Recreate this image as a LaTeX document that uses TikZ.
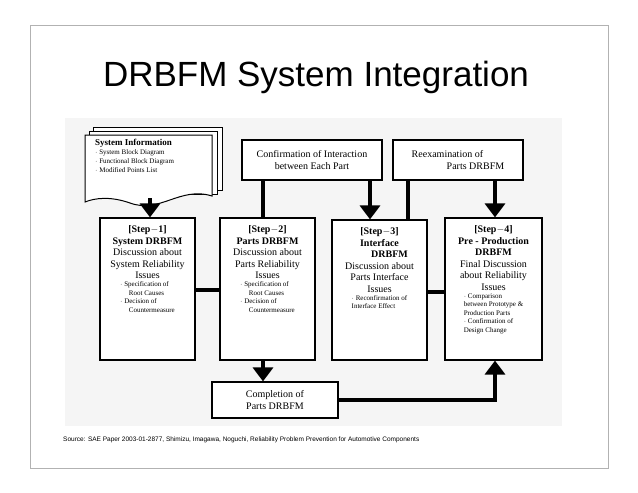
\documentclass[tikz,border=0pt]{standalone}
\usepackage{fontspec}
\setmainfont{Liberation Serif}
\newfontfamily\sans{Liberation Sans}
\usetikzlibrary{arrows.meta}

\tikzset{
	stepbox/.style={draw, line width=1.2pt, fill=white, inner sep=0pt},
	steptext/.style={align=center, font=\fontsize{10}{11.5}\selectfont, inner sep=2pt},
	bullets/.style={align=left, font=\fontsize{7}{8.5}\selectfont, inner sep=1pt},
	link/.style={line width=3.5pt},
	flow/.style={line width=3.5pt, -{Triangle[width=20pt,length=14pt]}},
}

\begin{document}
\begin{tikzpicture}[x=1pt,y=-1pt]
	\useasboundingbox (0,0) rectangle (638,493);
	\draw[gray!60] (30,25) rectangle (608,468);
	\node[font=\sans\fontsize{35}{40}\selectfont] (title) at (316,77) {DRBFM System Integration};
	% scanned figure area
	\fill[gray!8] (65,118) rectangle (562,426);

	% system information sheets
	\begin{scope}[line width=1pt]
		\filldraw[fill=white] (93,127) -- (222,127) -- (222,190) -- (93,190) -- cycle;
		\filldraw[fill=white] (89,131) -- (217,131) -- (217,194) -- (89,194) -- cycle;
		\filldraw[fill=white] (85,135) -- (212,135) -- (212,196)
			.. controls (180,186) and (160,214) .. (130,203)
			.. controls (110,196) and (95,198) .. (85,202) -- cycle;
	\end{scope}
	\node[anchor=north west, align=left, inner sep=0pt, font=\fontsize{7}{9}\selectfont] (info) at (95,139)
		{{\fontsize{9}{10}\selectfont\textbf{System Information}}\\
		 $\cdot$ System Block Diagram\\
		 $\cdot$ Functional Block Diagram\\
		 $\cdot$ Modified Points List};
	\coordinate (infob) at (150,198);

	% boxes
	\node[stepbox, minimum width=140pt, minimum height=40pt] (conf) at (312,160) {};
	\node[steptext, anchor=center] at (conf) {Confirmation of Interaction\\between Each Part};
	\node[stepbox, minimum width=130pt, minimum height=40pt] (reex) at (458,160) {};
	\node[steptext, align=left] at (reex) {Reexamination of\\\hspace*{3.5em}Parts DRBFM};

	\node[stepbox, minimum width=95pt, minimum height=142pt] (s1) at (147.5,289) {};
	\node[stepbox, minimum width=95pt, minimum height=142pt] (s2) at (267.5,289) {};
	\node[stepbox, minimum width=95pt, minimum height=140pt] (s3) at (379.5,290) {};
	\node[stepbox, minimum width=97pt, minimum height=142pt] (s4) at (493.5,289) {};
	\node[stepbox, minimum width=126pt, minimum height=36pt] (comp) at (275,400) {};
	\node[steptext] at (comp) {Completion of\\Parts DRBFM};

	\node[steptext, anchor=north] (t1) at ([yshift=-6pt]s1.north)
		{\textbf{[Step$-$1]}\\\textbf{System DRBFM}\\Discussion about\\System Reliability\\Issues};
	\node[bullets, anchor=north] at (t1.south)
		{$\cdot$ Specification of\\\quad\ Root Causes\\$\cdot$ Decision of\\\quad\ Countermeasure};
	\node[steptext, anchor=north] (t2) at ([yshift=-6pt]s2.north)
		{\textbf{[Step$-$2]}\\\textbf{Parts DRBFM}\\Discussion about\\Parts Reliability\\Issues};
	\node[bullets, anchor=north] at (t2.south)
		{$\cdot$ Specification of\\\quad\ Root Causes\\$\cdot$ Decision of\\\quad\ Countermeasure};
	\node[steptext, anchor=north] (t3) at ([yshift=-6pt]s3.north)
		{\textbf{[Step$-$3]}\\\textbf{Interface}\\\hspace*{2em}\textbf{DRBFM}\\Discussion about\\Parts Interface\\Issues};
	\node[bullets, anchor=north] at (t3.south)
		{$\cdot$ Reconfirmation of\\Interface Effect};
	\node[steptext, anchor=north] (t4) at ([yshift=-6pt]s4.north)
		{\textbf{[Step$-$4]}\\\textbf{Pre - Production}\\\textbf{DRBFM}\\Final Discussion\\about Reliability\\Issues};
	\node[bullets, anchor=north] at (t4.south)
		{$\cdot$ Comparison\\between Prototype \&\\Production Parts\\$\cdot$ Confirmation of\\Design Change};

	% connectors
	\draw[flow] (infob) -- (s1.north -| infob);
	\draw[link] (s1.east |- 0,290) -- (s2.west |- 0,290);
	\draw[link] (s3.east |- 0,292) -- (s4.west |- 0,292);
	\draw[link] (conf.south -| 263,0) -- (s2.north -| 263,0);
	\draw[flow] (conf.south -| 370,0) -- (s3.north -| 370,0);
	\draw[link] (reex.south -| 408,0) -- (s3.north -| 408,0);
	\draw[flow] (reex.south -| 495,0) -- (s4.north -| 495,0);
	\draw[flow] (s2.south -| 263,0) -- (comp.north -| 263,0);
	\draw[flow] (comp.east |- 0,400) -| (s4.south -| 495,0);

	\node[anchor=west, font=\sans\fontsize{6.5}{8}\selectfont, inner sep=0pt] (src) at (63,440)
		{Source: SAE Paper 2003-01-2877, Shimizu, Imagawa, Noguchi, Reliability Problem Prevention for Automotive Components};
\end{tikzpicture}
\end{document}
